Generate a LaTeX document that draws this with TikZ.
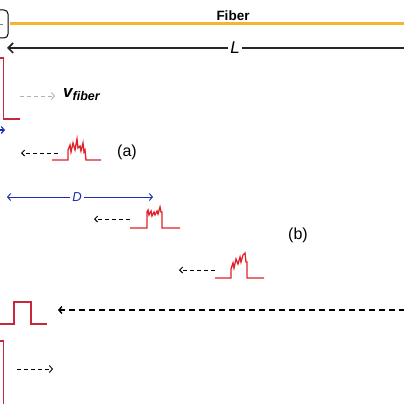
\documentclass[tikz,border=0pt]{standalone}
\usepackage{fontspec}
\setmainfont{Liberation Sans}
\usetikzlibrary{arrows.meta}
\definecolor{fibery}{HTML}{F2B72E}
\definecolor{pulsered}{HTML}{E0202A}
\definecolor{edgered}{HTML}{C8283C}
\definecolor{dblue}{HTML}{1E2DB4}
\tikzset{
  noisy/.style={pulsered, line width=1.3pt, line join=miter},
  edgepulse/.style={edgered, line width=1.2pt},
  leftdash/.style={dash pattern=on 4pt off 3pt, line width=0.9pt, -{Straight Barb[length=3pt,width=6pt]}},
  lbl/.style={font=\fontsize{16}{16}\selectfont, inner sep=0pt},
}
\begin{document}
\begin{tikzpicture}[x=1pt,y=-1pt]
\useasboundingbox (0,0) rectangle (404,404);
% source box
\node[draw, rounded corners=4pt, line width=1pt, minimum width=20pt, minimum height=28pt, inner sep=0pt] (src) at (-2,24) {};
\draw[gray, line width=0.8pt] (0,24) -- (3,24);
% fiber
\coordinate (fibend) at (405,24);
\draw[fibery, line width=3pt] (src.east) ++(1,0) -- (fibend);
\node[font=\bfseries\fontsize{13.5}{13.5}\selectfont, inner sep=0pt] (fibertxt) at (233,15.5) {Fiber};
% L arrow
\coordinate (Lr) at (405,48);
\coordinate (Ll) at (7,48);
\draw[line width=1.6pt, black!85, -{Straight Barb[length=5pt,width=10pt,line width=1.6pt]}] (Lr) -- (Ll);
\node[fill=white, inner sep=2pt, font=\itshape\fontsize{17}{17}\selectfont] (Ltxt) at (235,48) {L};
% left edge pulse top
\draw[edgepulse] (0,58) -- (3.3,58) -- (3.3,119) -- (20,119);
% v fiber
\coordinate (vs) at (20,96);
\coordinate (ve) at (55,96);
\draw[gray!60, dash pattern=on 4pt off 3pt, line width=0.9pt, -{Straight Barb[length=3pt,width=7pt]}] (vs) -- (ve);
\node[anchor=west, inner sep=0pt, font=\bfseries\itshape\fontsize{17}{17}\selectfont] (vf) at (63,95) {v\textsubscript{\fontsize{12.5}{12.5}\selectfont fiber}};
% blue tip at left edge
\coordinate (bt0) at (-4,130);
\coordinate (bt1) at (5,130);
\draw[dblue, line width=1.2pt, -{Straight Barb[length=3pt,width=7pt]}] (bt0) -- (bt1);
% pulse (a)
\coordinate (a0) at (58,153);
\coordinate (a1) at (21,153);
\draw[leftdash] (a0) -- (a1);
\draw[noisy] (52,160) -- (68,160) -- (68,150) -- (70,145) -- (71,152) -- (73,143) -- (75,150) -- (77,139) -- (78,148) -- (80,146) -- (81,151) -- (83,143) -- (84,152) -- (85,150) -- (86,160) -- (101,160);
\node[lbl] (alab) at (127,152) {(a)};
% D arrow
\coordinate (d0) at (7,197);
\coordinate (d1) at (153,197);
\draw[dblue, line width=1pt, {Straight Barb[length=3pt,width=7pt]}-{Straight Barb[length=3pt,width=7pt]}] (d0) -- (d1);
\node[fill=white, inner sep=2pt, text=dblue, font=\itshape\fontsize{13}{13}\selectfont] (Dtxt) at (77,197) {D};
% pulse 2
\coordinate (b0) at (130,219);
\coordinate (b1) at (94,219);
\draw[leftdash] (b0) -- (b1);
\draw[noisy] (130,228) -- (147,228) -- (147,212) -- (148,210) -- (149,215) -- (151,211) -- (152,216) -- (154,212) -- (155,215) -- (157,211) -- (158,214) -- (160,207) -- (161,212) -- (162,212) -- (162,228) -- (180,228);
\node[lbl] (blab) at (298,235) {(b)};
% pulse 3
\coordinate (c0) at (215,270);
\coordinate (c1) at (179,270);
\draw[leftdash] (c0) -- (c1);
\draw[noisy] (215,278) -- (231,278) -- (231,269) -- (233,263) -- (234,268) -- (236,259) -- (238,264) -- (240,257) -- (241,262) -- (243,255) -- (245,253) -- (246,262) -- (247,262) -- (247,278) -- (264,278);
% rectangular pulse
\draw[edgepulse] (0,324) -- (14,324) -- (14,302) -- (31,302) -- (31,324) -- (47,324);
% long dashed arrow
\coordinate (r0) at (405,310);
\coordinate (r1) at (58,310);
\draw[line width=1.6pt, dash pattern=on 6pt off 4pt, -{Straight Barb[length=3pt,width=7pt,line width=1.4pt]}] (r0) -- (r1);
% bottom left pulse
\draw[edgepulse] (0,341) -- (3.3,341) -- (3.3,405);
% right dashed arrow
\coordinate (e0) at (17,369);
\coordinate (e1) at (53,369);
\draw[dash pattern=on 4pt off 3pt, line width=0.9pt, -{Straight Barb[length=3pt,width=7pt]}] (e0) -- (e1);
\end{tikzpicture}
\end{document}
